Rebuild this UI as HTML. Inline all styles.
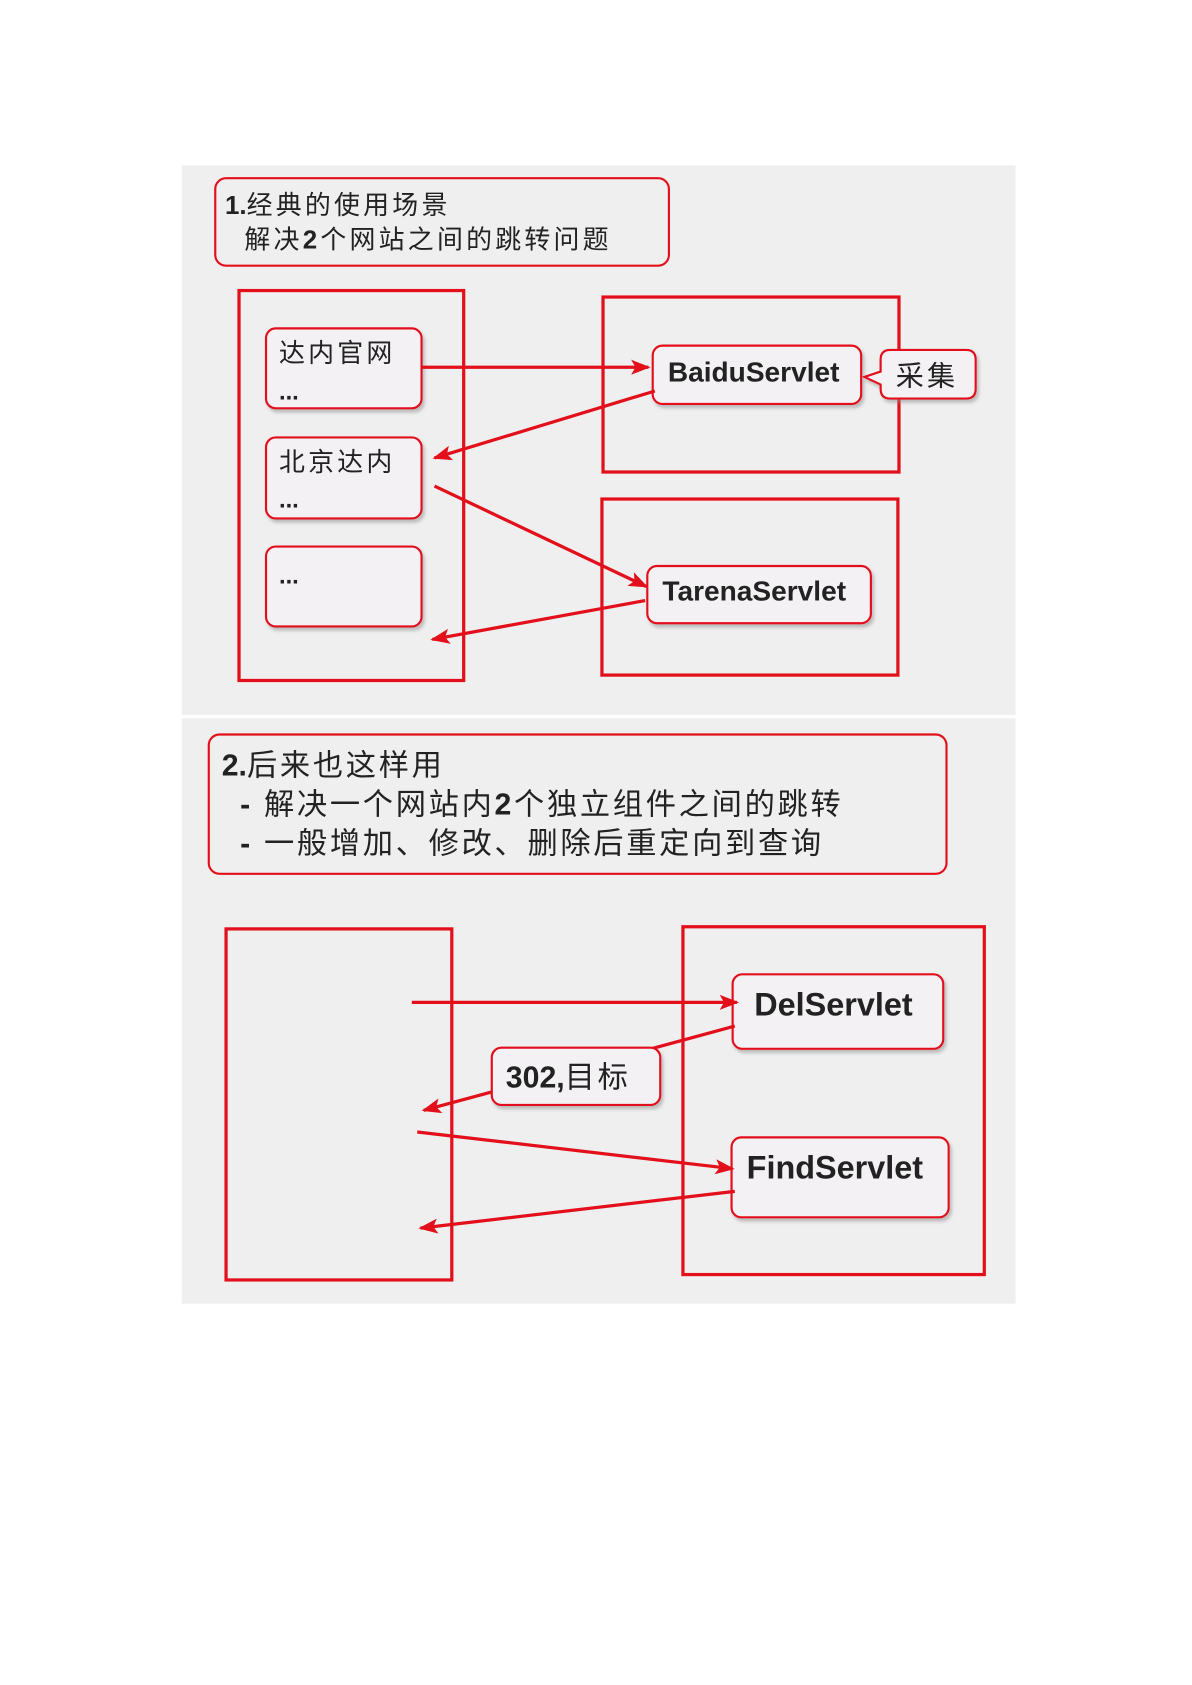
<!DOCTYPE html>
<html><head><meta charset="utf-8"><style>
html,body{margin:0;padding:0;background:#fff;}
svg{display:block}
text{font-family:"Liberation Sans","Noto Sans CJK SC",sans-serif;fill:#222}
</style></head><body>
<svg width="1192" height="1685" viewBox="0 0 1103 1560" xmlns="http://www.w3.org/2000/svg">
<defs>
<marker id="a" markerWidth="20" markerHeight="16" refX="16" refY="7" orient="auto" markerUnits="userSpaceOnUse"><path d="M0,0 L18,7 L0,14 L4,7 Z" fill="#e3101c"/></marker>
<filter id="s" x="-10%" y="-10%" width="130%" height="140%"><feDropShadow dx="2" dy="3" stdDeviation="1.5" flood-color="#888" flood-opacity="0.5"/></filter>
</defs>
<rect x="168" y="153" width="772" height="509" fill="#efefef"/>
<rect x="168" y="665" width="772" height="542" fill="#efefef"/>
<g fill="none" stroke="#e3101c" stroke-width="3">
<rect x="199" y="165" width="420" height="81" rx="10" stroke-width="2"/>
<rect x="221" y="269" width="208" height="361"/>
<rect x="558" y="275" width="274" height="162"/>
<rect x="557" y="462" width="274" height="163"/>
<rect x="193" y="680" width="683" height="129" rx="10" stroke-width="2"/>
<rect x="209" y="860" width="209" height="325"/>
<rect x="632" y="858" width="279" height="322"/>
</g>
<g fill="#f3f1f3" stroke="#e3101c" stroke-width="2" filter="url(#s)">
<rect x="246" y="304" width="144" height="74" rx="9"/>
<rect x="246" y="405" width="144" height="75" rx="9"/>
<rect x="246" y="506" width="144" height="74" rx="9"/>
<rect x="604" y="320" width="193" height="54" rx="9"/>
<path d="M824,324 H894 Q903,324 903,333 V360 Q903,369 894,369 H824 Q815,369 815,360 V356 L800,349 L815,344 V333 Q815,324 824,324 Z"/>
<rect x="599" y="524" width="207" height="53" rx="9"/>
<rect x="678" y="902" width="195" height="69" rx="9"/>
<rect x="677" y="1053" width="201" height="74" rx="9"/>
</g>
<g stroke="#e3101c" stroke-width="3" fill="none" marker-end="url(#a)">
<line x1="390" y1="340" x2="600" y2="340"/>
<line x1="606" y1="362" x2="402" y2="424"/>
<line x1="402" y1="450" x2="598" y2="543"/>
<line x1="597" y1="556" x2="400" y2="592"/>
<line x1="381" y1="928" x2="682" y2="928"/>
<line x1="680" y1="950" x2="392" y2="1028"/>
<line x1="386" y1="1048" x2="678" y2="1082"/>
<line x1="680" y1="1103" x2="389" y2="1137"/>
</g>
<rect x="455" y="970" width="156" height="53" rx="9" fill="#f3f1f3" stroke="#e3101c" stroke-width="2" filter="url(#s)"/>
<g font-size="24" letter-spacing="3">
<text x="208" y="198"><tspan font-weight="bold" letter-spacing="0">1.</tspan>经典的使用场景</text>
<text x="226" y="230">解决<tspan font-weight="bold">2</tspan>个网站之间的跳转问题</text>
<text x="258" y="335">达内官网</text>
<text x="258" y="436">北京达内</text>
<text x="829" y="357" font-size="26">采集</text>
</g>
<g font-size="22" font-weight="bold">
<text x="258" y="370">...</text>
<text x="258" y="470">...</text>
<text x="258" y="540">...</text>
<text x="618" y="353" font-size="26">BaiduServlet</text>
<text x="613" y="556" font-size="26">TarenaServlet</text>
</g>
<g font-size="28" letter-spacing="2.5">
<text x="205" y="718"><tspan font-weight="bold" letter-spacing="0">2.</tspan>后来也这样用</text>
<text x="222" y="754"><tspan font-weight="bold">- </tspan>解决一个网站内<tspan font-weight="bold">2</tspan>个独立组件之间的跳转</text>
<text x="222" y="790"><tspan font-weight="bold">- </tspan>一般增加、修改、删除后重定向到查询</text>
<text x="468" y="1007"><tspan font-weight="bold" letter-spacing="0">302,</tspan>目标</text>
<text x="698" y="940" font-weight="bold" font-size="30" letter-spacing="0">DelServlet</text>
<text x="691" y="1091" font-weight="bold" font-size="30" letter-spacing="0">FindServlet</text>
</g>
<line x1="1003" y1="1566" x2="1012" y2="1566" stroke="#000" stroke-width="1"/>
</svg>
</body></html>
